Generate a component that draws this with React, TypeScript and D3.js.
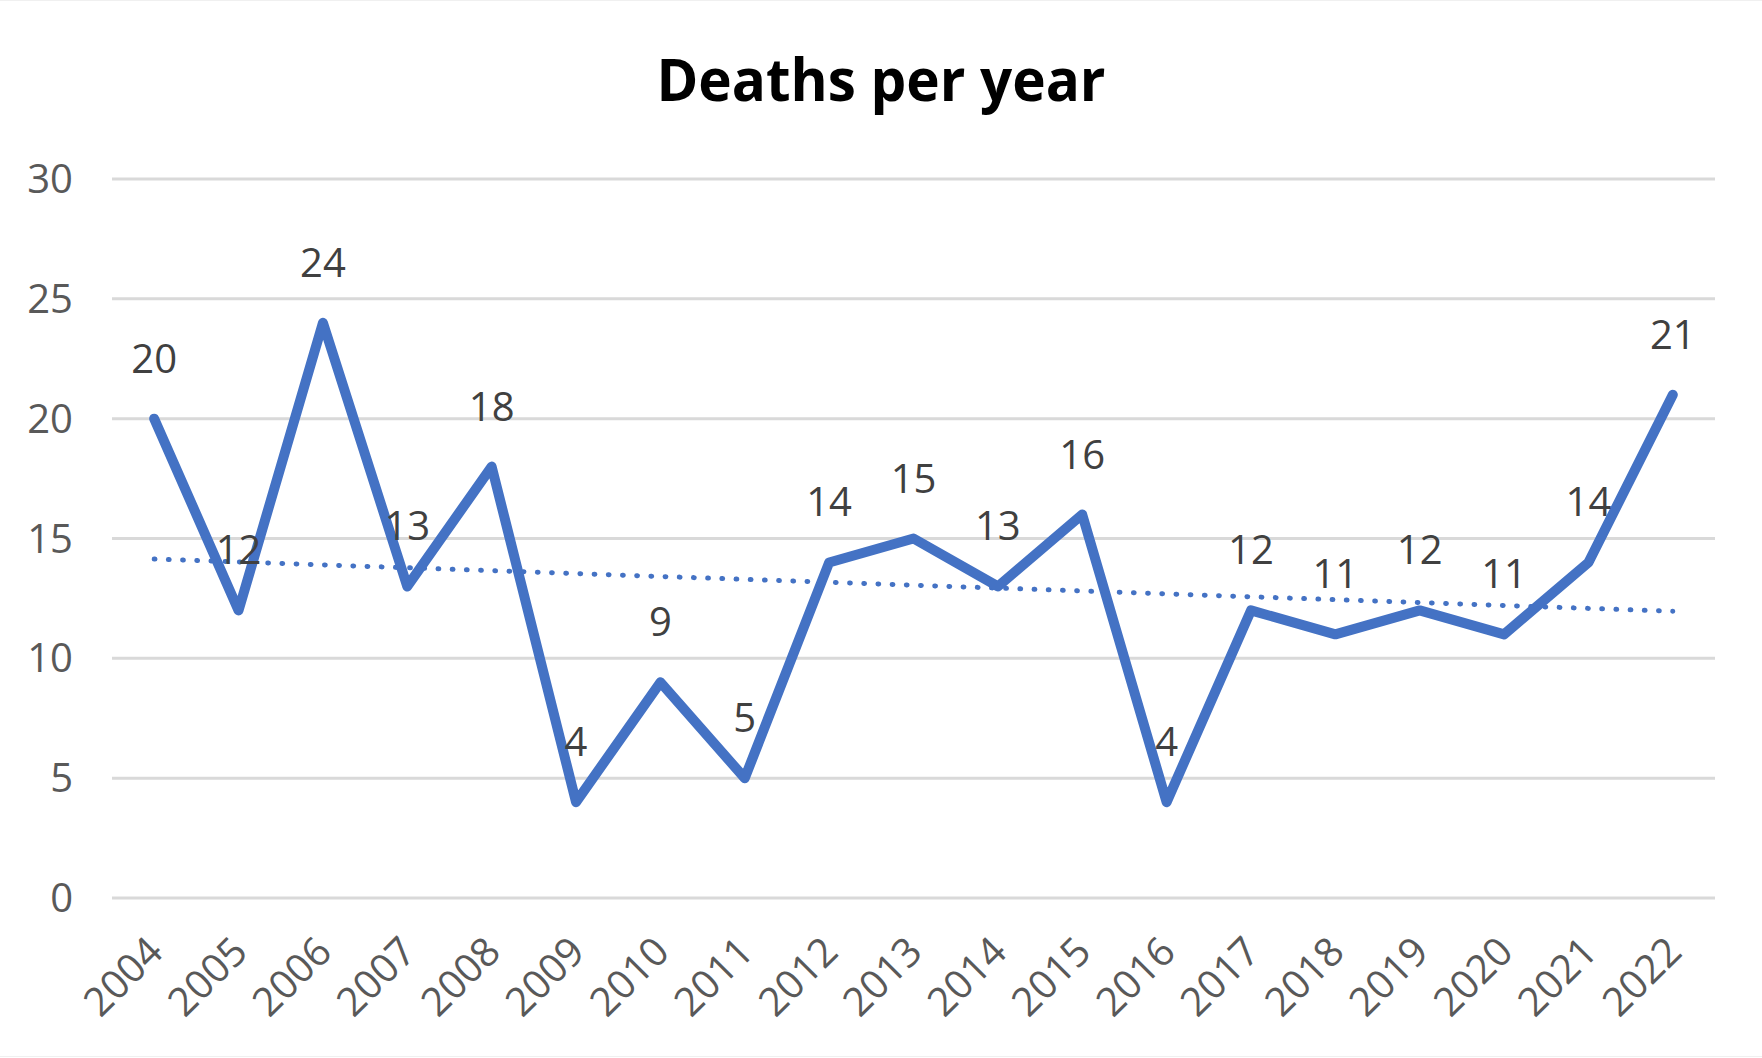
import React from 'react';
import * as d3 from 'd3';

// Deaths recorded per year
const years = [
  '2004', '2005', '2006', '2007', '2008', '2009', '2010', '2011', '2012', '2013',
  '2014', '2015', '2016', '2017', '2018', '2019', '2020', '2021', '2022',
];
const deaths = [20, 12, 24, 13, 18, 4, 9, 5, 14, 15, 13, 16, 4, 12, 11, 12, 11, 14, 21];
const yTicks = [0, 5, 10, 15, 20, 25, 30];
const chartTitle = 'Deaths per year';

const W = 1762;
const H = 1058;
const BLUE = '#4472C4';
const FONT = '"Open Sans", "DejaVu Sans", sans-serif';

export default function App() {
  const x = d3.scaleBand<string>().domain(years).range([112, 1715]).padding(0);
  const y = d3.scaleLinear().domain([0, 30]).range([898, 179]);
  const cx = (yr: string) => (x(yr) as number) + x.bandwidth() / 2;

  // Least-squares linear trend over the category index
  const idx = deaths.map((_, i) => i);
  const mx = d3.mean(idx) as number;
  const my = d3.mean(deaths) as number;
  const sxy = d3.sum(idx, (i) => (i - mx) * (deaths[i] - my));
  const sxx = d3.sum(idx, (i) => (i - mx) * (i - mx));
  const slope = sxy / sxx;
  const trend = idx.map((i) => my + slope * (i - mx));

  const line = d3
    .line<number>()
    .x((_, i) => cx(years[i]))
    .y((d) => y(d));

  return (
    <svg
      width={W}
      height={H}
      viewBox={`0 0 ${W} ${H}`}
      style={{ position: 'absolute', left: 0, top: 0, background: '#ffffff' }}
    >
      <rect x={0} y={0} width={W} height={H} fill="#ffffff" />
      <line x1={0} x2={W} y1={0.5} y2={0.5} stroke="#f0f0f0" strokeWidth={1} />
      <line x1={0} x2={W} y1={H - 1.5} y2={H - 1.5} stroke="#f0f0f0" strokeWidth={1} />

      <text
        x={W / 2}
        y={101}
        textAnchor="middle"
        fontFamily={FONT}
        fontWeight={700}
        fontSize={59}
        fill="#000000"
        textLength={449}
        lengthAdjust="spacingAndGlyphs"
      >
        {chartTitle}
      </text>

      {/* horizontal gridlines and value axis labels */}
      {yTicks.map((t) => (
        <g key={t}>
          <line x1={112} x2={1715} y1={y(t)} y2={y(t)} stroke="#d9d9d9" strokeWidth={3} />
          <text
            x={73}
            y={y(t) + 14}
            textAnchor="end"
            fontFamily={FONT}
            fontSize={40}
            fill="#595959"
          >
            {t}
          </text>
        </g>
      ))}

      {/* category labels, rotated */}
      {years.map((yr) => (
        <text
          key={yr}
          transform={`translate(${cx(yr) + 11},${954}) rotate(-45)`}
          textAnchor="end"
          fontFamily={FONT}
          fontSize={40}
          fill="#595959"
        >
          {yr}
        </text>
      ))}

      {/* trend line */}
      <path
        d={line(trend) as string}
        fill="none"
        stroke={BLUE}
        strokeWidth={5}
        strokeDasharray="0.8 13.4"
        strokeLinecap="round"
      />

      {/* data series */}
      <path
        d={line(deaths) as string}
        fill="none"
        stroke={BLUE}
        strokeWidth={10}
        strokeLinejoin="round"
        strokeLinecap="round"
      />

      {/* value labels */}
      {deaths.map((v, i) => (
        <text
          key={years[i]}
          x={cx(years[i])}
          y={y(v) - 46}
          textAnchor="middle"
          fontFamily={FONT}
          fontSize={40}
          fill="#404040"
        >
          {v}
        </text>
      ))}
    </svg>
  );
}
